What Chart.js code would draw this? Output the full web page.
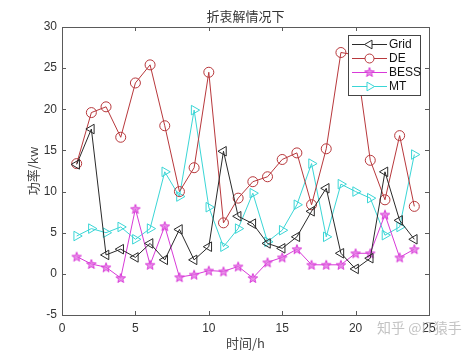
<!DOCTYPE html>
<html>
<head>
<meta charset="utf-8">
<script src="https://cdn.jsdelivr.net/npm/chart.js@4/dist/chart.umd.min.js"></script>
<style>
html,body{margin:0;padding:0;background:#fff;}
#wrap{width:474px;height:355px;position:relative;}
</style>
</head>
<body>
<div id="wrap"><canvas id="c" width="474" height="355"></canvas></div>
<script>
// ---- data ----
const hours = [1,2,3,4,5,6,7,8,9,10,11,12,13,14,15,16,17,18,19,20,21,22,23,24];
const gridPower = [13.3,17.6,2.3,3.0,2.0,3.7,1.7,5.4,1.7,3.3,14.9,7.0,6.1,3.7,3.1,4.5,7.6,10.4,2.5,0.6,1.9,12.4,6.5,4.2];
const dePower   = [13.4,19.6,20.3,16.6,23.2,25.4,18.0,10.0,12.9,24.5,6.2,9.2,11.2,11.8,13.9,14.7,8.4,15.2,26.9,26.6,13.8,9.0,16.8,8.2];
const bessPower = [2.1,1.2,0.8,-0.5,7.9,1.1,5.8,-0.4,-0.1,0.4,0.3,0.9,-0.5,1.4,2.0,3.0,1.1,1.1,1.1,2.5,2.5,7.2,2.0,3.0];
const mtPower   = [4.6,5.5,5.0,5.7,4.2,5.5,12.4,9.4,19.9,8.1,3.3,5.5,9.8,3.9,5.3,8.4,13.4,4.5,10.9,10.0,9.2,4.7,5.7,14.5];
const seriesNames = ['Grid','DE','BESS','MT'];
const xTicks = [0,5,10,15,20,25];
const yTicks = [-5,0,5,10,15,20,25,30];
const titleText = '折衷解情况下';
const xLabel = '时间/h';
const yLabel = '功率/kw';
const watermark = '知乎 @IT猿手';

const colors = {Grid:'#2a2a2a', DE:'#b8383c', BESS:'#d83ad8', MT:'#3ad6d6'};

function starCanvas(color){
  const s=12, c=document.createElement('canvas'); c.width=s; c.height=s;
  const g=c.getContext('2d'); const cx=s/2, cy=s/2+0.5, R=5, r=2.1;
  g.beginPath();
  for(let i=0;i<10;i++){
    const a=-Math.PI/2+i*Math.PI/5, rad=i%2?r:R;
    const px=cx+rad*Math.cos(a), py=cy+rad*Math.sin(a);
    i?g.lineTo(px,py):g.moveTo(px,py);
  }
  g.closePath(); g.fillStyle='rgba(225,110,225,0.75)'; g.fill();
  g.strokeStyle=color; g.lineWidth=1; g.stroke();
  return c;
}
const starImg = starCanvas(colors.BESS);

function pts(arr){ return hours.map((h,i)=>({x:h,y:arr[i]})); }

const datasets = [
  {label:seriesNames[0], data:pts(gridPower), borderColor:colors.Grid, backgroundColor:'rgba(0,0,0,0)',
   pointStyle:'triangle', pointRotation:-90, pointRadius:5.5, pointBorderColor:colors.Grid, pointBackgroundColor:'rgba(0,0,0,0)', pointBorderWidth:1},
  {label:seriesNames[1], data:pts(dePower), borderColor:colors.DE, backgroundColor:'rgba(0,0,0,0)',
   pointStyle:'circle', pointRadius:5, pointBorderColor:colors.DE, pointBackgroundColor:'rgba(0,0,0,0)', pointBorderWidth:1},
  {label:seriesNames[2], data:pts(bessPower), borderColor:colors.BESS, backgroundColor:'rgba(0,0,0,0)',
   pointStyle:starImg, pointRadius:6, pointBorderColor:colors.BESS, pointBackgroundColor:colors.BESS},
  {label:seriesNames[3], data:pts(mtPower), borderColor:colors.MT, backgroundColor:'rgba(0,0,0,0)',
   pointStyle:'triangle', pointRotation:90, pointRadius:5.5, pointBorderColor:colors.MT, pointBackgroundColor:'rgba(0,0,0,0)', pointBorderWidth:1}
];
datasets.forEach(d=>{d.borderWidth=1; d.tension=0; d.fill=false; d.pointHoverRadius=d.pointRadius;});

const axisColor='#5a5a5a';
const textColor='#333';

const decor = {
  id:'decor',
  beforeDraw(chart){
    const {ctx}=chart; ctx.save(); ctx.fillStyle='#fff'; ctx.fillRect(0,0,chart.width,chart.height); ctx.restore();
  },
  afterDraw(chart){
    const {ctx, chartArea:a, scales}=chart;
    ctx.save();
    ctx.strokeStyle=axisColor; ctx.lineWidth=1;
    ctx.strokeRect(Math.round(a.left)+0.5, Math.round(a.top)+0.5, Math.round(a.right-a.left), Math.round(a.bottom-a.top));
    const tl=4;
    ctx.beginPath();
    xTicks.forEach(v=>{const x=Math.round(scales.x.getPixelForValue(v))+0.5;
      ctx.moveTo(x,a.bottom); ctx.lineTo(x,a.bottom-tl); ctx.moveTo(x,a.top); ctx.lineTo(x,a.top+tl);});
    yTicks.forEach(v=>{const y=Math.round(scales.y.getPixelForValue(v))+0.5;
      ctx.moveTo(a.left,y); ctx.lineTo(a.left+tl,y); ctx.moveTo(a.right,y); ctx.lineTo(a.right-tl,y);});
    ctx.stroke();
    ctx.fillStyle=textColor; ctx.textAlign='center'; ctx.textBaseline='middle';
    ctx.font='13px "Noto Sans CJK SC"';
    ctx.fillText(titleText,(a.left+a.right)/2,16);
    ctx.fillStyle='#444';
    ctx.fillText(xLabel,(a.left+a.right)/2,343);
    ctx.save(); ctx.translate(33,(a.top+a.bottom)/2); ctx.rotate(-Math.PI/2);
    ctx.fillText(yLabel,0,0); ctx.restore();
    ctx.fillStyle='rgba(180,180,180,0.8)'; ctx.font='14px "Noto Sans CJK SC"'; ctx.textAlign='left';
    ctx.fillText(watermark,377,328);
    // legend
    const bx=348, by=35, bw=72, bh=60;
    ctx.fillStyle='#fff'; ctx.fillRect(bx,by,bw,bh);
    ctx.strokeStyle='#444'; ctx.strokeRect(bx+0.5,by+0.5,bw,bh);
    chart.data.datasets.forEach((d,i)=>{
      const y=by+9+i*14;
      ctx.strokeStyle=d.borderColor; ctx.lineWidth=1;
      ctx.beginPath(); ctx.moveTo(352,y+0.5); ctx.lineTo(387,y+0.5); ctx.stroke();
      const mx=369.5;
      if(d.pointStyle instanceof HTMLCanvasElement){
        ctx.drawImage(d.pointStyle, mx-d.pointStyle.width/2, y-d.pointStyle.height/2);
      } else {
        ctx.fillStyle='#fff'; ctx.strokeStyle=d.borderColor;
        ctx.beginPath();
        if(d.pointStyle==='circle'){ ctx.arc(mx,y+0.5,4.5,0,Math.PI*2); }
        else {
          const dir = d.pointRotation<0 ? -1 : 1, r=5;
          ctx.moveTo(mx+dir*r,y+0.5); ctx.lineTo(mx-dir*r*0.5,y+0.5-r*0.87); ctx.lineTo(mx-dir*r*0.5,y+0.5+r*0.87); ctx.closePath();
        }
        ctx.fill(); ctx.stroke();
      }
      ctx.fillStyle='#111'; ctx.font='12px "Liberation Sans"'; ctx.textAlign='left'; ctx.textBaseline='middle';
      ctx.fillText(d.label,389,y+1);
    });
    ctx.restore();
  }
};

new Chart(document.getElementById('c'),{
  type:'line',
  data:{datasets},
  options:{
    responsive:false, animation:false, devicePixelRatio:1,
    layout:{padding:{left:0,right:45,top:27,bottom:0}},
    plugins:{legend:{display:false}, title:{display:false}, tooltip:{enabled:false}},
    scales:{
      x:{type:'linear', min:0, max:25,
        afterBuildTicks(s){ s.ticks = xTicks.map(v=>({value:v})); },
        afterFit(s){ s.height=40; },
        grid:{display:false, drawTicks:false}, border:{display:false},
        ticks:{color:textColor, font:{family:'"Liberation Sans"', size:12}, padding:6, maxRotation:0, autoSkip:false}},
      y:{type:'linear', min:-5, max:30,
        afterBuildTicks(s){ s.ticks = yTicks.map(v=>({value:v})); },
        afterFit(s){ s.width=62; },
        grid:{display:false, drawTicks:false}, border:{display:false},
        ticks:{color:textColor, font:{family:'"Liberation Sans"', size:12}, padding:5, autoSkip:false}}
    }
  },
  plugins:[decor]
});
</script>
</body>
</html>
